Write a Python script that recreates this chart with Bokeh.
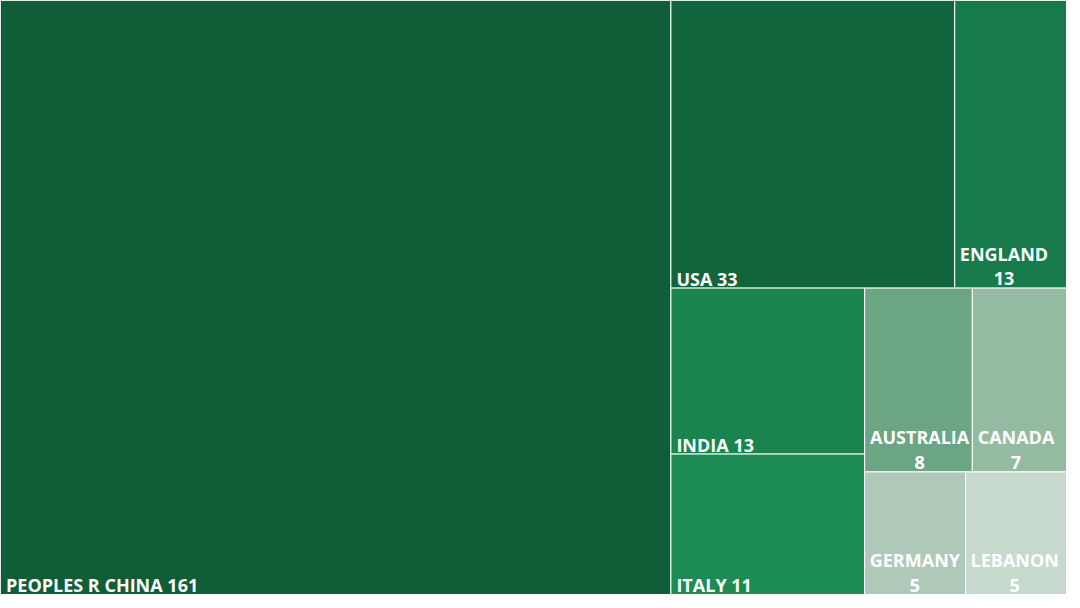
from bokeh.plotting import figure
from bokeh.models import Range1d, ColumnDataSource
from bokeh.core.properties import value
from bokeh.embed import file_html
from bokeh.resources import INLINE
import math

# ---- data ----
names = ["PEOPLES R CHINA", "USA", "ENGLAND", "INDIA", "ITALY",
         "AUSTRALIA", "CANADA", "GERMANY", "LEBANON"]
counts = [161, 33, 13, 13, 11, 8, 7, 5, 5]
colors = ["#0f5e37", "#11653d", "#177a4b", "#1a844f", "#1c8b54",
          "#6ba584", "#94bba2", "#afc9b8", "#c7d9cd"]

W, H = 1066, 594          # treemap area (px)
FW, FH = 1066, 600        # figure frame (px)
RATIO = 0.5 * (1 + math.sqrt(5))


def worst(areas, fixed, ratio):
    s = sum(areas)
    if s == 0:
        return float("inf")
    f = fixed * fixed * ratio
    return max(f * max(areas) / (s * s), (s * s) / (f * min(areas)))


def position(row, fixed, rect, flush, out):
    along_x = (fixed == rect["w"])
    area = sum(a for _, a in row)
    other = area / fixed if fixed else 0
    lim = rect["h"] if along_x else rect["w"]
    if flush or other > lim:
        other = lim
    last = rect["x"] if along_x else rect["y"]
    span = rect["w"] if along_x else rect["h"]
    start = last
    for i, (idx, a) in enumerate(row):
        step = a / other if other else 0
        remain = start + span - last
        mod = remain if (i == len(row) - 1 or remain < step) else step
        if along_x:
            out[idx] = (last, rect["y"], mod, other)
        else:
            out[idx] = (rect["x"], last, other, mod)
        last += mod
    if along_x:
        rect["y"] += other
        rect["h"] -= other
    else:
        rect["x"] += other
        rect["w"] -= other


def squarify(vals, w, h, ratio):
    total = sum(vals)
    areas = [v * w * h / total for v in vals]
    rect = {"x": 0.0, "y": 0.0, "w": float(w), "h": float(h)}
    out = [None] * len(vals)
    queue = list(enumerate(areas))
    row = []
    best = float("inf")
    fixed = min(rect["w"], rect["h"])
    while queue:
        row.append(queue[0])
        score = worst([a for _, a in row], fixed, ratio)
        if score <= best:
            queue.pop(0)
            best = score
        else:
            row.pop()
            position(row, fixed, rect, False, out)
            fixed = min(rect["w"], rect["h"])
            row = []
            best = float("inf")
    if row:
        position(row, fixed, rect, True, out)
    return out


rects = squarify(counts, W, H, RATIO)

# Open Sans Bold approximate advance widths (em)
CW = {"A": .690, "B": .663, "C": .632, "D": .740, "E": .556, "F": .543, "G": .720,
      "H": .764, "I": .346, "J": .298, "K": .657, "L": .553, "M": .942, "N": .803,
      "O": .780, "P": .633, "Q": .780, "R": .649, "S": .550, "T": .572, "U": .757,
      "V": .659, "W": .995, "X": .655, "Y": .608, "Z": .571, " ": .26}
FS = 18


def tw(s):
    return sum(CW.get(c, .572) for c in s) * FS


PAD = 5.5
BASE = 9.5
LH = 25

left = [r[0] for r in rects]
right = [r[0] + r[2] for r in rects]
top = [r[1] for r in rects]
bottom = [r[1] + r[3] for r in rects]

tx, ty, tt, ta = [], [], [], []
for i, (n, c) in enumerate(zip(names, counts)):
    x0, y0, w, h = rects[i]
    full = f"{n} {c}"
    if tw(full) <= w - 2 * PAD:
        tx.append(x0 + PAD); ty.append(y0 + h - BASE); tt.append(full); ta.append("left")
    else:
        mw = max(tw(n), tw(str(c)))
        cx = x0 + PAD + mw / 2
        tx.append(cx); ty.append(y0 + h - BASE - LH); tt.append(n); ta.append("center")
        tx.append(cx); ty.append(y0 + h - BASE); tt.append(str(c)); ta.append("center")

p = figure(width=FW, height=FH, output_backend="svg", toolbar_location=None,
           x_range=Range1d(0, FW), y_range=Range1d(FH, 0), min_border=0)
p.axis.visible = False
p.grid.visible = False
p.outline_line_color = None
p.background_fill_color = "white"
p.border_fill_color = "white"

p.quad(left=left, right=right, top=top, bottom=bottom, fill_color=colors,
       line_color="white", line_width=1)

src = ColumnDataSource(dict(x=tx, y=ty, t=tt, a=ta))
p.text(x="x", y="y", text="t", source=src, text_align="a",
       text_baseline="alphabetic", text_color="white",
       text_font=value("Open Sans"), text_font_style="bold",
       text_font_size=f"{FS}px")

open("out.html", "w").write(file_html(p, INLINE))
